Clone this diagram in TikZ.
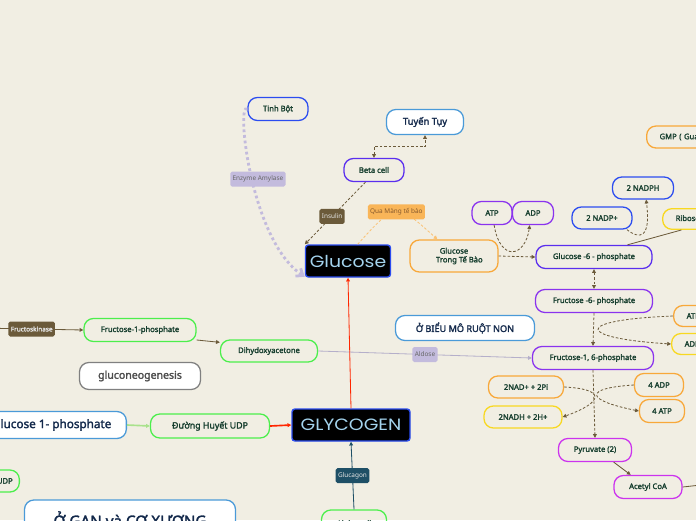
\documentclass[tikz,border=0pt]{standalone}
\usepackage{fontspec}
\setmainfont{Noto Sans}[BoldFont={Noto Sans}, BoldFeatures={FakeBold=2}]
\newfontfamily\bigfont[FakeStretch=1.15]{Poppins}
\usepackage{xcolor}
\usepackage{tikz}
\usetikzlibrary{arrows.meta,positioning}

\definecolor{bgcol}{HTML}{F1EEE3}
\definecolor{darkgr}{HTML}{173F2F}
\definecolor{navy}{HTML}{13294B}
\definecolor{cblue}{HTML}{2B4CF0}
\definecolor{cindigo}{HTML}{5A2EEE}
\definecolor{cpurple}{HTML}{8A33EE}
\definecolor{cmag}{HTML}{CC33EE}
\definecolor{cgreen}{HTML}{4CEE4C}
\definecolor{corange}{HTML}{F8A83A}
\definecolor{cyellow}{HTML}{F8D820}
\definecolor{csky}{HTML}{4A9AD8}
\definecolor{cbrown}{HTML}{6B5A3A}
\definecolor{clav}{HTML}{C3BBDD}
\definecolor{cteal}{HTML}{1E4F66}
\definecolor{cice}{HTML}{A4D4EE}

\begin{document}
\begin{tikzpicture}[
        x=0.03cm, y=-0.03cm,
        txt/.style={font=\fontsize{6.5pt}{7.5pt}\selectfont\bfseries, text=darkgr},
        box/.style={txt, draw, line width=1.1pt, rounded corners=8pt, align=center, inner sep=2pt, minimum height=0.69cm},
        bluebox/.style={box, draw=cblue},
        indigobox/.style={box, draw=cindigo},
        purplebox/.style={box, draw=cpurple},
        magbox/.style={box, draw=cmag},
        greenbox/.style={box, draw=cgreen},
        orangebox/.style={box, draw=corange},
        yellowbox/.style={box, draw=cyellow},
        skybox/.style={box, draw=csky, fill=white, text=navy},
        mainbox/.style={draw=cblue, line width=1.2pt, fill=black, rounded corners=2.5pt, text=cice,
            font=\bigfont\fontsize{14pt}{16pt}\selectfont, minimum height=0.96cm, inner sep=2pt},
        tag/.style={rounded corners=1.5pt, inner sep=2pt, minimum height=0.45cm, font=\fontsize{5.5pt}{6.5pt}\selectfont},
        arr/.style={-{Triangle[length=3.2pt, width=3.2pt]}, line width=0.7pt},
        darr/.style={arr, dashed, draw=cbrown, dash pattern=on 2.2pt off 1.6pt}
    ]
        \useasboundingbox (0,0) rectangle (696,520);
        \fill[bgcol] (0,0) rectangle (696,520);
        \clip (0,0) rectangle (696,520);

        % centre nodes
        \node[mainbox, minimum width=2.55cm] (glucose) at (348,261) {Glucose};
        \node[mainbox, minimum width=3.54cm] (glycogen) at (351,425) {GLYCOGEN};

        % top part
        \node[bluebox, minimum width=1.8cm] (tinhbot) at (278,109) {Tinh Bột};
        \node[skybox, minimum width=2.31cm, minimum height=0.75cm, font=\fontsize{8pt}{9pt}\selectfont\bfseries] (tuyentuy) at (425,122) {Tuyến Tụy};
        \node[indigobox, minimum width=1.8cm] (betacell) at (374,170) {Beta cell};
        \node[orangebox, minimum width=2.64cm, minimum height=0.96cm] (gtb) at (454,256) {Glucose\\\hspace*{1.4em}Trong Tế Bào};
        \node[purplebox, minimum width=1.2cm] (atp) at (492,213) {ATP};
        \node[purplebox, minimum width=1.23cm] (adp) at (533,213) {ADP};
        \node[indigobox, minimum width=3.48cm] (gsixp) at (594,257) {Glucose -6 - phosphate};
        \node[bluebox, minimum width=1.8cm, minimum height=0.66cm] (nadpp) at (602,218) {2 NADP+};
        \node[bluebox, minimum width=1.83cm, minimum height=0.66cm] (nadph) at (643,188) {2 NADPH};
        \node[yellowbox, minimum width=3cm, minimum height=0.62cm, anchor=west, text width=2.5cm, align=left, inner xsep=0.39cm] (ribose) at (662,219) {Ribose 5-phosphate};
        \node[orangebox, minimum width=4cm, minimum height=0.66cm, anchor=west, text width=3.5cm, align=left, inner xsep=0.39cm] (gmp) at (646,137) {GMP ( Guanosine )};

        % glycolysis column
        \node[purplebox, minimum width=3.51cm] (fsixp) at (594,301) {Fructose -6- phosphate};
        \node[orangebox, minimum width=1.5cm, minimum height=0.63cm, anchor=west, text width=0.8cm, align=left, inner xsep=0.39cm] (atpr) at (673,316) {ATP};
        \node[yellowbox, minimum width=1.5cm, minimum height=0.63cm, anchor=west, text width=0.8cm, align=left, inner xsep=0.39cm] (adpr) at (671,344) {ADP};
        \node[purplebox, minimum width=3.63cm] (fbp) at (593,358) {Fructose-1, 6-phosphate};
        \node[orangebox, minimum width=2.25cm, minimum height=0.66cm] (nadp) at (526,387) {2NAD+ + 2Pi};
        \node[orangebox, minimum width=1.47cm] (adpfour) at (659,385) {4 ADP};
        \node[orangebox, minimum width=1.35cm] (atpfour) at (662,411) {4 ATP};
        \node[yellowbox, minimum width=2.34cm, minimum height=0.66cm] (nadh) at (523,417) {2NADH + 2H+};
        \node[magbox, minimum width=2.19cm] (pyruvate) at (595,450) {Pyruvate (2)};
        \node[magbox, minimum width=2.04cm] (acetyl) at (648,487) {Acetyl CoA};
        \coordinate (tca) at (710,484);

        \node[skybox, minimum width=4.17cm, minimum height=0.75cm, font=\fontsize{7.8pt}{9pt}\selectfont\bfseries] (bieumo) at (465,328) {Ở BIỂU MÔ RUỘT NON};

        % left part
        \coordinate (fkstart) at (-20,328);
        \node[greenbox, minimum width=3.36cm] (fonep) at (140,330) {Fructose-1-phosphate};
        \node[greenbox, minimum width=2.91cm, minimum height=0.66cm] (dihy) at (269,351) {Dihydoxyacetone};
        \node[box, draw=gray, fill=white, text=black!70, minimum width=3.63cm, minimum height=0.81cm, font=\fontsize{9pt}{10pt}\selectfont\bfseries] (gneo) at (140,376) {gluconeogenesis};
        \node[skybox, anchor=east, minimum height=0.81cm, inner xsep=0.45cm, font=\fontsize{10pt}{11pt}\selectfont\bfseries] (gonep) at (127,425) {Glucose 1- phosphate};
        \node[greenbox, minimum width=3.57cm, minimum height=0.72cm, font=\fontsize{7.5pt}{8.5pt}\selectfont\bfseries] (udp) at (210,426) {Đường Huyết UDP};
        \node[greenbox, anchor=east, minimum height=0.66cm, inner xsep=0.2cm] (leftudp) at (20,481) {UDP};
        \node[skybox, minimum width=6.33cm, minimum height=1.14cm, font=\fontsize{13pt}{14pt}\selectfont\bfseries] (gan) at (130,519) {Ở GAN và CƠ XƯƠNG};
        \node[greenbox, minimum width=1.95cm, minimum height=0.84cm] (alpha) at (354,524) {Alpha cell};

        % connectors
        \draw[line width=2.4pt, draw=clav, dash pattern=on 2.4pt off 2.4pt, -{Straight Barb[length=5pt, width=8pt]}]
            (tinhbot.west) .. controls (236,100) and (250,240) ..
            node[pos=0.5, tag, fill=clav, text=black!60, xshift=0.2cm, yshift=-0.1cm] {Enzyme Amylase} (glucose.200);
        \draw[darr] (betacell.235) -- node[tag, fill=cbrown, text=white!90!black, pos=0.55] {Insulin} (glucose.north west);
        \draw[darr, {Triangle[length=3.2pt, width=3.2pt]}-{Triangle[length=3.2pt, width=3.2pt]}]
            (betacell.north) -- ++(0,-11) -| (tuyentuy.south);
        \draw[arr, dashed, draw=corange!70, dash pattern=on 2.2pt off 1.6pt]
            (glucose.60) .. controls (396,202) ..
            node[tag, fill=corange!85, text=brown!70!black] {Qua Màng tế bào} (gtb.135);
        \draw[darr] (gtb.east) -- (gsixp.west);
        \draw[darr] (atp.280) .. controls (500,262) and (525,258) .. (adp.255);
        \draw[darr, {Triangle[length=3.2pt, width=3.2pt]}-{Triangle[length=3.2pt, width=3.2pt]}] (gsixp.south) -- (fsixp.north);
        \draw[darr] (nadpp.-25) .. controls (640,240) and (651,238) .. (nadph.285);
        \draw[line width=0.7pt, draw=cbrown] (gsixp.20) -- (ribose.197);
        \draw[darr] (fsixp.south) -- (fbp.north);
        \draw[darr] (atpr.west) .. controls (572,320) and (576,338) .. (adpr.west);
        \draw[darr] (fbp.south) -- (pyruvate.north);
        \draw[darr] (nadp.east) .. controls (606,389) and (604,402) .. (nadh.east);
        \draw[darr] (adpfour.west) .. controls (584,388) and (584,400) .. (atpfour.west);
        \draw[arr, draw=cbrown] (pyruvate.-33) -- (acetyl.145);
        \draw[line width=0.7pt, draw=cbrown] (acetyl.east) -- (tca);

        \draw[arr, draw=cbrown] (fkstart) -- node[tag, fill=cbrown, text=white!90!black, font=\fontsize{5.5pt}{6.5pt}\selectfont\bfseries] {Fructoskinase} (fonep.west);
        \draw[arr, draw=cbrown] (fonep.-10) -- (dihy.170);
        \draw[arr, draw=clav!80!gray] (dihy.east) -- node[tag, fill=clav, text=black!60] {Aldose} (fbp.west);
        \draw[arr, line width=1.4pt, draw=green!50!olive!45!white] (gonep.east) -- (udp.west);
        \draw[arr, line width=1.4pt, draw=red!70!orange] (udp.east) -- (glycogen.west);
        \draw[arr, draw=red!70!orange] (glycogen.north) -- (glucose.south);
        \draw[arr, draw=cteal] (alpha.north) -- node[tag, fill=cteal, text=white!90!black] {Glucagon} (glycogen.south);
    \end{tikzpicture}
\end{document}
